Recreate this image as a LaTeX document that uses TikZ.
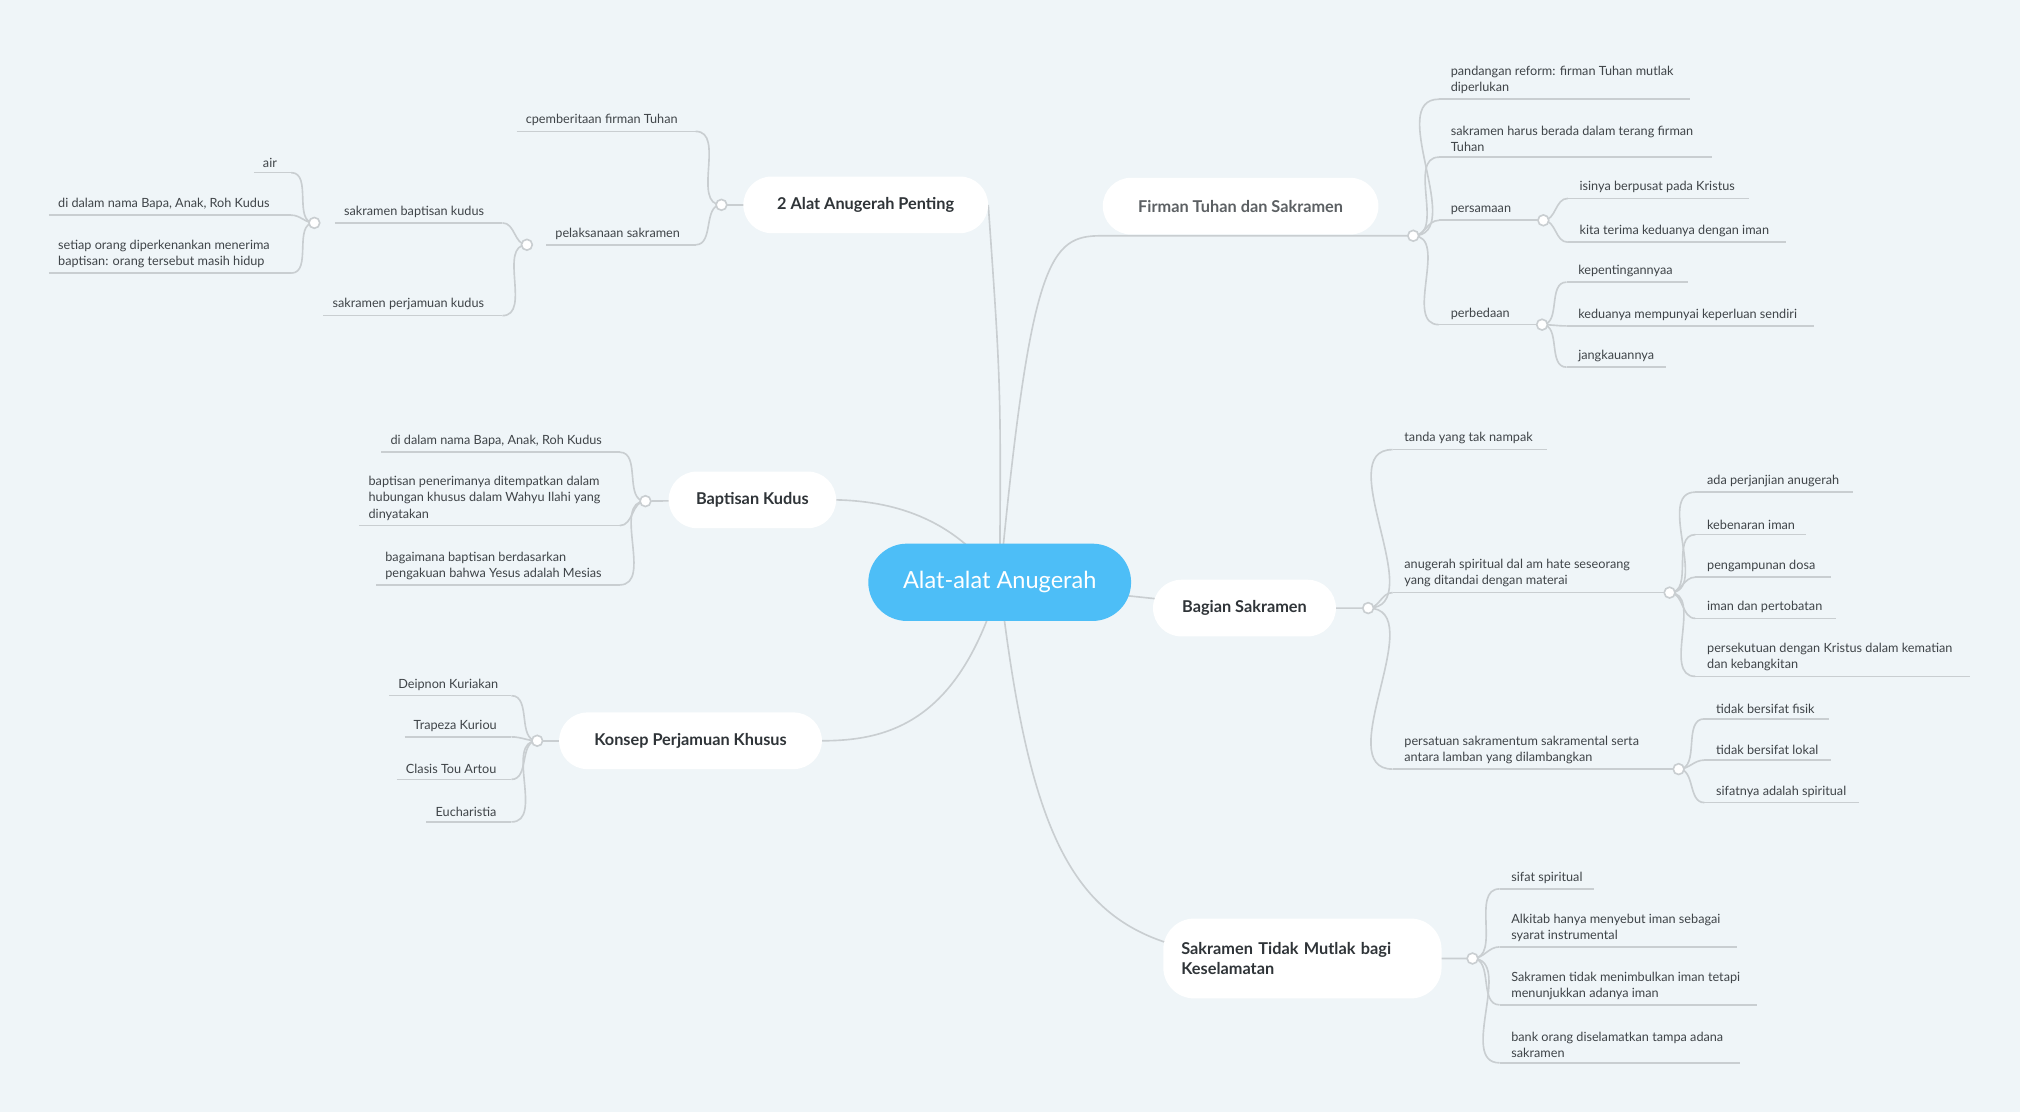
\documentclass[tikz,border=0pt]{standalone}
\usepackage{fontspec}
\setmainfont{Lato}
\usetikzlibrary{positioning,backgrounds}
\definecolor{bgcol}{HTML}{EFF5F8}
\definecolor{rootcol}{HTML}{4DBEF7}
\definecolor{linecol}{HTML}{C9CED1}
\definecolor{titlecol}{HTML}{2F3438}
\definecolor{leafcol}{HTML}{3F4448}

\tikzset{
  wire/.style={draw=linecol, line width=1.8pt},
  leaf/.style={font=\fontsize{14}{17.8}\selectfont, text=leafcol, inner sep=0pt, align=left, anchor=south west},
  topic/.style={fill=white, rounded corners=1.1cm, minimum height=2.2cm, font=\fontsize{18}{22}\selectfont\bfseries, text=titlecol, align=left},
  jdot/.style={circle, draw=linecol, line width=1.8pt, fill=white, inner sep=0pt, minimum size=0.42cm}
}

% leaf on the right of its junction
\newcommand{\leafR}[6]{%
  \node[leaf] (#1) at (#3,#4-4) {#6};
  \coordinate (#1s) at (#3-9,#4);
  \coordinate (#1e) at (#5,#4);
  \draw[wire] (#1s) -- (#1e);
  \draw[wire] (#2) to[out=0,in=180] (#1s);}
% leaf on the left of its junction
\newcommand{\leafL}[6]{%
  \node[leaf] (#1) at (#3,#4-4) {#6};
  \coordinate (#1s) at (#3-7,#4);
  \coordinate (#1e) at (#5,#4);
  \draw[wire] (#1s) -- (#1e);
  \draw[wire] (#2) to[out=180,in=0] (#1e);}

\begin{document}
\begin{tikzpicture}[x=0.05cm, y=-0.05cm]
  % main nodes
  \node [fill=rootcol, rounded corners=1.5cm, minimum width=10.2cm, minimum height=3cm, text=white, font=\fontsize{26}{30}\selectfont] (root) at (776,452) {Alat-alat Anugerah};
  \node [topic, minimum width=9.5cm] (alat) at (672,159) {2 Alat Anugerah Penting};
  \node [topic, minimum width=10.7cm, text=leafcol!85] (firman) at (963,160) {Firman Tuhan dan Sakramen};
  \node [topic, minimum width=6.5cm] (baptis) at (584,388) {Baptisan Kudus};
  \node [topic, minimum width=10.2cm] (konsep) at (536,575) {Konsep Perjamuan Khusus};
  \node [topic, minimum width=7.1cm] (bagian) at (966,472) {Bagian Sakramen};
  \node [topic, minimum width=10.8cm, minimum height=3.1cm, rounded corners=1.2cm, text width=9.4cm] (mutlak) at (1011,744) {Sakramen Tidak Mutlak bagi\\Keselamatan};

  % junctions
  \coordinate (jalat) at (560,159);
  \coordinate (jlaks) at (409,190);
  \coordinate (jbapt) at (244,173);
  \coordinate (jfirm) at (1097,183);
  \coordinate (jsama) at (1198,171);
  \coordinate (jbeda) at (1197,252);
  \coordinate (jbapk) at (501,389);
  \coordinate (jkons) at (417,575);
  \coordinate (jbagi) at (1062,472);
  \coordinate (jspir) at (1296,460);
  \coordinate (jsatu) at (1303,597);
  \coordinate (jmutl) at (1143,744);

  \begin{pgfonlayer}{background}
    \fill [bgcol] (0,0) rectangle (1568,863);
    \draw [wire] (root.center) .. controls (777,300) .. (alat.east);
    \draw [wire] (root.center) .. controls (800,200) and (815,183) .. (855,183) -- (jfirm);
    \draw [wire] (root.center) .. controls (740,400) and (690,389) .. (baptis.east);
    \draw [wire] (root.center) .. controls (745,560) and (690,575) .. (konsep.east);
    \draw [wire] (root.center) -- (bagian.center) -- (jbagi);
    \draw [wire] (root.center) .. controls (805,700) and (850,744) .. (mutlak.center) -- (jmutl);
    \draw [wire] (alat.center) -- (jalat);
    \draw [wire] (baptis.center) -- (jbapk);
    \draw [wire] (konsep.center) -- (jkons);
  \end{pgfonlayer}

  % 2 Alat Anugerah Penting
  \leafL{pem}{jalat}{408}{102}{540}{cpemberitaan firman Tuhan}
  \leafL{lak}{jalat}{431}{190}{540}{pelaksanaan sakramen}
  \leafL{sbk}{jlaks}{267}{173}{390}{sakramen baptisan kudus}
  \leafL{spk}{jlaks}{258}{245}{390}{sakramen perjamuan kudus}
  \leafL{air}{jbapt}{204}{134}{226}{air}
  \leafL{nam}{jbapt}{45}{167}{226}{di dalam nama Bapa, Anak, Roh Kudus}
  \leafL{set}{jbapt}{45}{212}{226}{setiap orang diperkenankan menerima\\baptisan: orang tersebut masih hidup}

  % Firman Tuhan dan Sakramen
  \leafR{ref}{jfirm}{1126}{77}{1312}{pandangan reform: firman Tuhan mutlak\\diperlukan}
  \leafR{ter}{jfirm}{1126}{122}{1329}{sakramen harus berada dalam terang firman\\Tuhan}
  \leafR{sam}{jfirm}{1126}{171}{1198}{persamaan}
  \leafR{isi}{jsama}{1226}{154}{1358}{isinya berpusat pada Kristus}
  \leafR{kit}{jsama}{1226}{188}{1386}{kita terima keduanya dengan iman}
  \leafR{bed}{jfirm}{1126}{252}{1197}{perbedaan}
  \leafR{kep}{jbeda}{1225}{219}{1310}{kepentingannyaa}
  \leafR{kdu}{jbeda}{1225}{253}{1408}{keduanya mempunyai keperluan sendiri}
  \leafR{jan}{jbeda}{1225}{285}{1293}{jangkauannya}

  % Baptisan Kudus
  \leafL{bnm}{jbapk}{303}{351}{481}{di dalam nama Bapa, Anak, Roh Kudus}
  \leafL{bpn}{jbapk}{286}{408}{481}{baptisan penerimanya ditempatkan dalam\\hubungan khusus dalam Wahyu Ilahi yang\\dinyatakan}
  \leafL{bgm}{jbapk}{299}{454}{481}{bagaimana baptisan berdasarkan\\pengakuan bahwa Yesus adalah Mesias}

  % Konsep Perjamuan Khusus
  \leafL{dei}{jkons}{309}{540}{397}{Deipnon Kuriakan}
  \leafL{tra}{jkons}{321}{572}{397}{Trapeza Kuriou}
  \leafL{cla}{jkons}{315}{605}{397}{Clasis Tou Artou}
  \leafL{euc}{jkons}{338}{638}{397}{Eucharistia}

  % Bagian Sakramen
  \leafR{tan}{jbagi}{1090}{349}{1201}{tanda yang tak nampak}
  \leafR{anu}{jbagi}{1090}{460}{1296}{anugerah spiritual dal am hate seseorang\\yang ditandai dengan materai}
  \leafR{ada}{jspir}{1325}{382}{1438}{ada perjanjian anugerah}
  \leafR{keb}{jspir}{1325}{415}{1402}{kebenaran iman}
  \leafR{pen}{jspir}{1325}{448}{1421}{pengampunan dosa}
  \leafR{ima}{jspir}{1325}{480}{1425}{iman dan pertobatan}
  \leafR{per}{jspir}{1325}{525}{1529}{persekutuan dengan Kristus dalam kematian\\dan kebangkitan}
  \leafR{sat}{jbagi}{1090}{597}{1303}{persatuan sakramentum sakramental serta\\antara lamban yang dilambangkan}
  \leafR{fis}{jsatu}{1332}{558}{1420}{tidak bersifat fisik}
  \leafR{lok}{jsatu}{1332}{590}{1421}{tidak bersifat lokal}
  \leafR{sif}{jsatu}{1332}{623}{1443}{sifatnya adalah spiritual}

  % Sakramen Tidak Mutlak bagi Keselamatan
  \leafR{ssp}{jmutl}{1173}{690}{1237}{sifat spiritual}
  \leafR{alk}{jmutl}{1173}{735}{1348}{Alkitab hanya menyebut iman sebagai\\syarat instrumental}
  \leafR{stm}{jmutl}{1173}{780}{1364}{Sakramen tidak menimbulkan iman tetapi\\menunjukkan adanya iman}
  \leafR{ban}{jmutl}{1173}{825}{1351}{bank orang diselamatkan tampa adana\\sakramen}

  \foreach \j in {jalat,jlaks,jbapt,jfirm,jsama,jbeda,jbapk,jkons,jbagi,jspir,jsatu,jmutl}
    \node [jdot] at (\j) {};
\end{tikzpicture}
\end{document}
